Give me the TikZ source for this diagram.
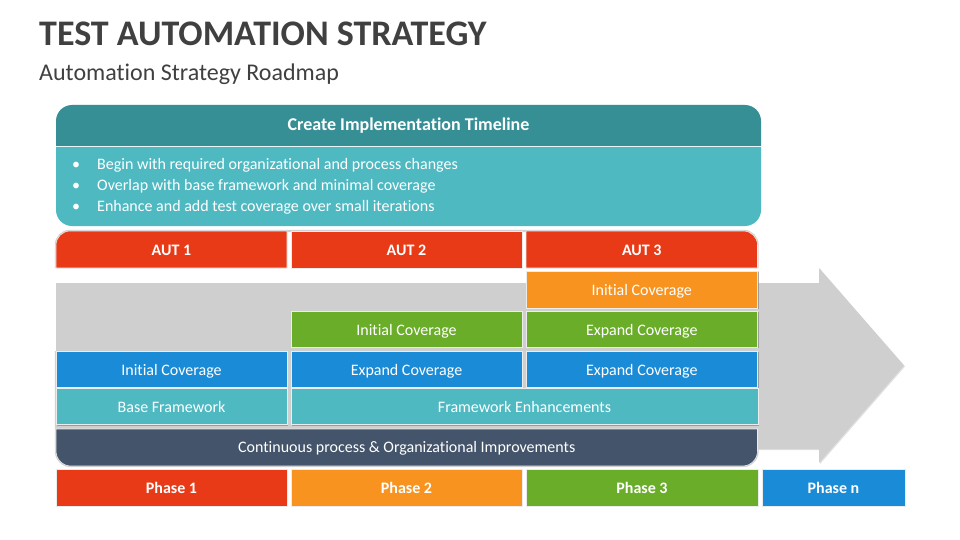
\documentclass[tikz,border=0pt]{standalone}
\usepackage{fontspec}
\setmainfont{Carlito}[Ligatures=NoCommon]
\usetikzlibrary{shadows}
\definecolor{titlegray}{HTML}{404040}
\definecolor{tealD}{HTML}{378F96}
\definecolor{tealL}{HTML}{4FB9C2}
\definecolor{cRed}{HTML}{E83A17}
\definecolor{cOrange}{HTML}{F7931E}
\definecolor{cGreen}{HTML}{6AAD29}
\definecolor{cBlue}{HTML}{1A8BD6}
\definecolor{cSlate}{HTML}{44546A}
\definecolor{arrowgray}{HTML}{D0CFD0}
\tikzset{
  cellshadow/.style={drop shadow={shadow xshift=1pt, shadow yshift=-1pt, opacity=0.25, fill=black}},
  cell/.style={rectangle, draw=white!85!gray, line width=0.6pt, inner sep=0pt,
     text=white, font=\fontsize{16}{19}\selectfont, text height=12pt, text depth=0pt, cellshadow},
  celltxt/.style={rectangle, inner sep=0pt, text=white, font=\fontsize{16}{19}\selectfont,
     text height=12pt, text depth=0pt},
  boldtxt/.style={font=\fontsize{16}{19}\selectfont\bfseries},
  bullettxt/.style={anchor=base west, inner sep=0pt, text=white, font=\fontsize{16}{19}\selectfont},
  shapeline/.style={draw=white!85!gray, line width=0.6pt}
}
\begin{document}
\begin{tikzpicture}[x=1pt,y=-1pt]
\useasboundingbox (0,0) rectangle (960,540);
\fill[white] (0,0) rectangle (960,540);

% titles
\node[anchor=base west, inner sep=0pt, text=titlegray, font=\fontsize{36}{43}\selectfont\bfseries] (title) at (39,46) {TEST AUTOMATION STRATEGY};
\node[anchor=base west, inner sep=0pt, text=titlegray, font=\fontsize{24}{29}\selectfont] (subtitle) at (39,81) {Automation Strategy Roadmap};

% top box
\fill[tealD] (56,146) -- (56,121) .. controls (56,112.2) and (63.2,105) .. (72,105) -- (745,105) .. controls (753.8,105) and (761,112.2) .. (761,121) -- (761,146) -- cycle;
\fill[tealL] (56,147) -- (761,147) -- (761,210) .. controls (761,218.8) and (753.8,226) .. (745,226) -- (72,226) .. controls (63.2,226) and (56,218.8) .. (56,210) -- cycle;
\node[celltxt, font=\fontsize{18}{22}\selectfont\bfseries, text height=13pt] (hdr) at (408.5,124.5) {Create Implementation Timeline};
\node[bullettxt] (b1m) at (72,170) {•};
\node[bullettxt] (b1) at (97,170) {Begin with required organizational and process changes};
\node[bullettxt] (b2m) at (72,190.7) {•};
\node[bullettxt] (b2) at (97,190.7) {Overlap with base framework and minimal coverage};
\node[bullettxt] (b3m) at (72,211.3) {•};
\node[bullettxt] (b3) at (97,211.3) {Enhance and add test coverage over small iterations};

% arrow
\fill[arrowgray, drop shadow={shadow xshift=1pt, shadow yshift=-1pt, opacity=0.12, fill=black}] (56,283) -- (819,283) -- (819,268) -- (904,365.5) -- (819,463) -- (819,449) -- (56,449) -- cycle;

% group halo
\draw[black!18, line width=2.4pt] (56,268) -- (56,245) .. controls (56,237.3) and (62.3,231) .. (70,231) -- (743.5,231) .. controls (751.2,231) and (757.5,237.3) .. (757.5,245) -- (757.5,268);
\draw[black!18, line width=2.4pt] (56,351) -- (56,451) .. controls (56,459.3) and (62.7,466) .. (71,466) -- (742.5,466) .. controls (750.8,466) and (757.5,459.3) .. (757.5,451) -- (757.5,271);

% AUT row
\fill[cRed, shapeline] (56,268) -- (56,245) .. controls (56,237.3) and (62.3,231) .. (70,231) -- (287,231) -- (287,268) -- cycle;
\node[celltxt, boldtxt] (aut1) at (171.5,249.5) {AUT 1};
\node[cell, boldtxt, fill=cRed, minimum width=231pt, minimum height=37pt] (aut2) at (406.5,249.5) {AUT 2};
\fill[cRed, shapeline] (526,231) -- (743.5,231) .. controls (751.2,231) and (757.5,237.3) .. (757.5,245) -- (757.5,268) -- (526,268) -- cycle;
\node[celltxt, boldtxt] (aut3) at (641.75,249.5) {AUT 3};

% row 1
\node[cell, fill=cOrange, minimum width=231.5pt, minimum height=37pt] (r1c3) at (641.75,289.5) {Initial Coverage};
% row 2
\node[cell, fill=cGreen, minimum width=231pt, minimum height=36pt] (r2c2) at (406.5,329) {Initial Coverage};
\node[cell, fill=cGreen, minimum width=231.5pt, minimum height=36pt] (r2c3) at (641.75,329) {Expand Coverage};
% row 3
\node[cell, fill=cBlue, minimum width=231pt, minimum height=36pt] (r3c1) at (171.5,369) {Initial Coverage};
\node[cell, fill=cBlue, minimum width=231pt, minimum height=36pt] (r3c2) at (406.5,369) {Expand Coverage};
\node[cell, fill=cBlue, minimum width=231.5pt, minimum height=36pt] (r3c3) at (641.75,369) {Expand Coverage};
% row 4
\node[cell, fill=tealL, minimum width=231pt, minimum height=36.5pt] (r4c1) at (171.5,406.5) {Base Framework};
\node[cell, fill=tealL, minimum width=467pt, minimum height=36.5pt] (r4c2) at (524.5,406.5) {Framework Enhancements};
% row 5
\fill[cSlate, shapeline] (56,429) -- (757.5,429) -- (757.5,451) .. controls (757.5,459.3) and (750.8,466) .. (742.5,466) -- (71,466) .. controls (62.7,466) and (56,459.3) .. (56,451) -- cycle;
\node[celltxt] (cont) at (406.75,446.5) {Continuous process \& Organizational Improvements};

% phases
\node[cell, boldtxt, fill=cRed, minimum width=231pt, minimum height=37pt] (ph1) at (171.5,487.5) {Phase 1};
\node[cell, boldtxt, fill=cOrange, minimum width=231pt, minimum height=37pt] (ph2) at (406.5,487.5) {Phase 2};
\node[cell, boldtxt, fill=cGreen, minimum width=232pt, minimum height=37pt] (ph3) at (642,487.5) {Phase 3};
\node[cell, boldtxt, fill=cBlue, minimum width=143pt, minimum height=37pt] (phn) at (833.5,487.5) {Phase n};
\end{tikzpicture}
\end{document}
